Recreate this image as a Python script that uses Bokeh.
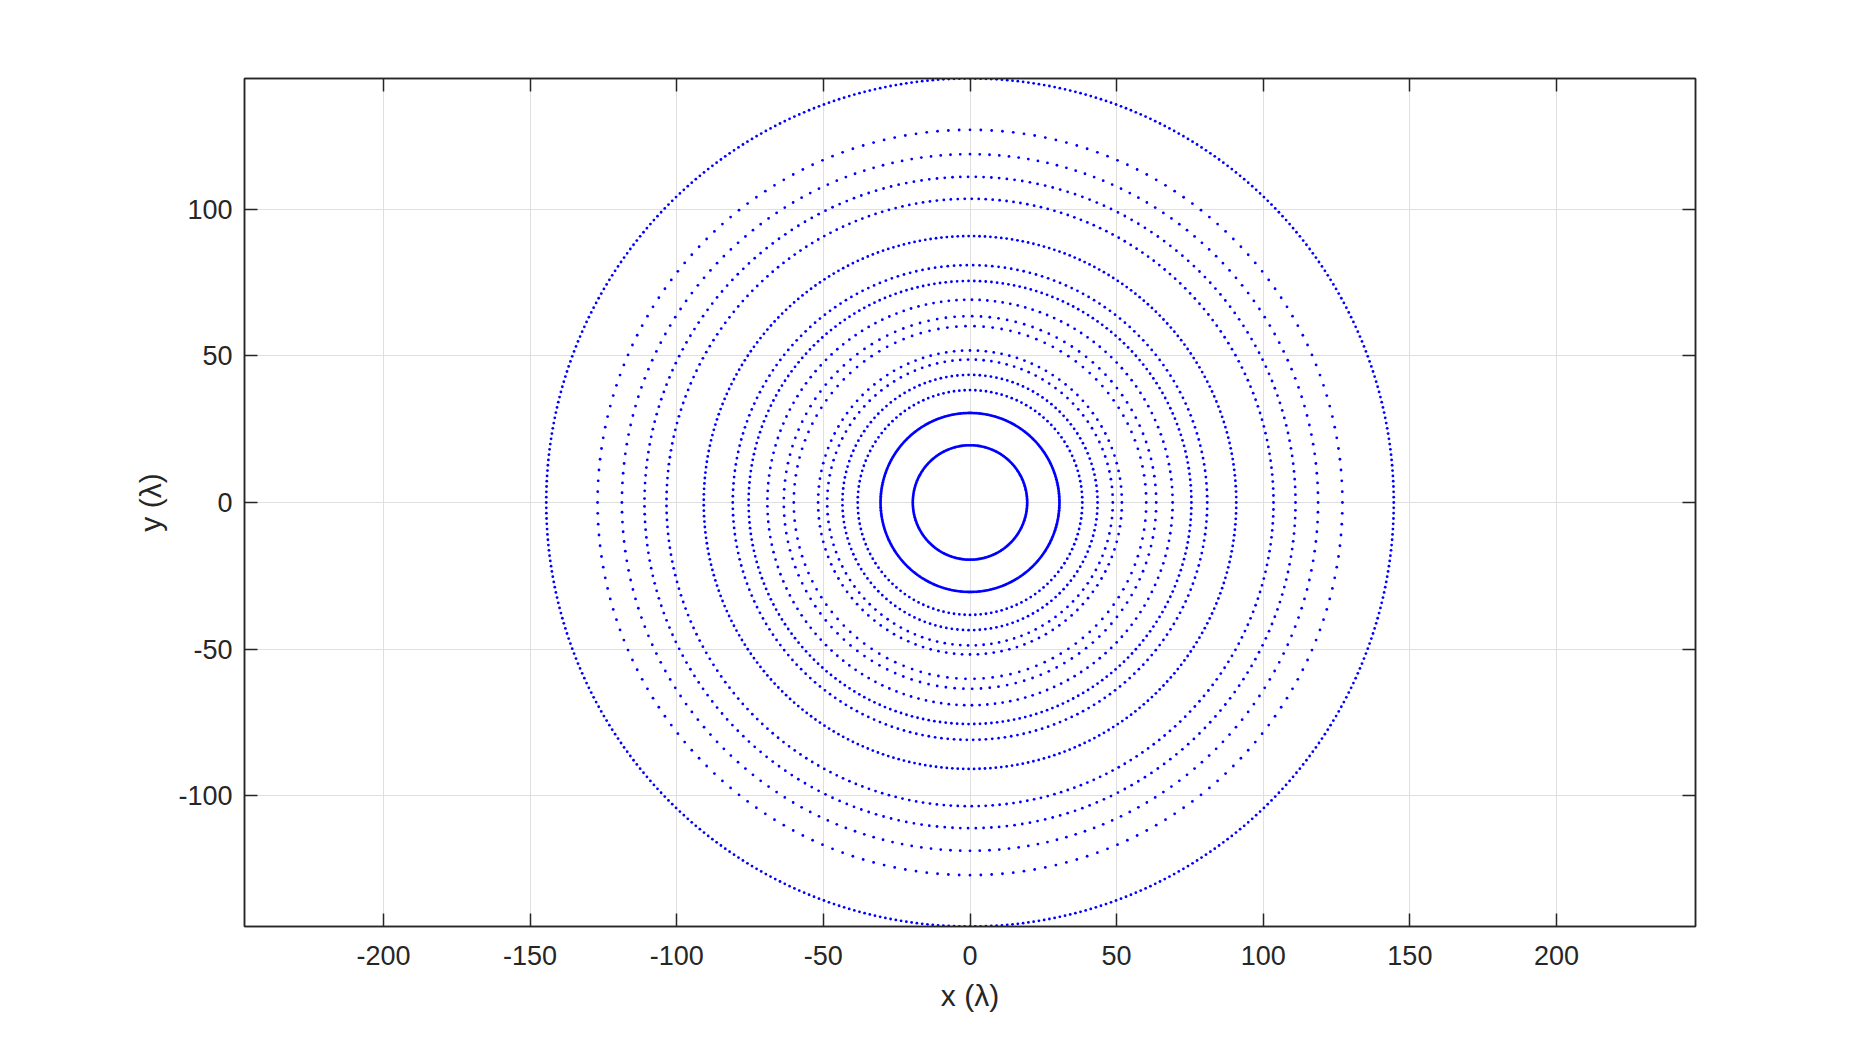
import numpy as np
from bokeh.plotting import figure
from bokeh.models import Range1d, LinearAxis, FixedTicker, ColumnDataSource
from bokeh.embed import file_html
from bokeh.resources import INLINE

# ring radii (in wavelengths) and number of elements per ring
ring_radius = [19.5, 30.5, 38.3, 43.5, 48.7, 51.8, 60.1, 63.5, 69.1, 75.5,
               80.9, 90.8, 103.5, 111.0, 118.7, 127.0, 144.5]
ring_count = [240, 360, 132, 143, 115, 120, 122, 133, 165, 243,
              234, 307, 273, 263, 224, 216, 500]

x_ticks = [-200, -150, -100, -50, 0, 50, 100, 150, 200]
y_ticks = [-100, -50, 0, 50, 100]

xs, ys = [], []
for r, n in zip(ring_radius, ring_count):
    a = np.arange(n) * 2 * np.pi / n
    xs.extend(r * np.cos(a))
    ys.extend(r * np.sin(a))
src = ColumnDataSource(dict(x=xs, y=ys))

AX = "#262626"
FONT = "Liberation Sans"

p = figure(frame_width=1451, frame_height=848,
           x_range=Range1d(-247.4, 247.4), y_range=Range1d(-144.5, 144.5),
           output_backend="svg", toolbar_location=None,
           min_border_left=244, min_border_top=78,
           min_border_right=164, min_border_bottom=100,
           background_fill_color="white", border_fill_color="white")

p.scatter("x", "y", source=src, marker="circle", size=2.8,
          fill_color="#0000ff", line_color="#0000ff", line_width=0)

p.xaxis.ticker = FixedTicker(ticks=x_ticks)
p.yaxis.ticker = FixedTicker(ticks=y_ticks)
p.xgrid.ticker = FixedTicker(ticks=x_ticks)
p.ygrid.ticker = FixedTicker(ticks=y_ticks)
p.grid.grid_line_color = "#dfdfdf"
p.grid.grid_line_width = 1

p.xaxis.axis_label = "x (λ)"
p.yaxis.axis_label = "y (λ)"
p.xaxis.major_label_overrides = {t: str(t) for t in x_ticks}
p.yaxis.major_label_overrides = {t: str(t) for t in y_ticks}

for ax in (p.xaxis[0], p.yaxis[0]):
    ax.axis_line_color = AX
    ax.axis_line_width = 1.5
    ax.major_tick_line_color = AX
    ax.major_tick_line_width = 1.5
    ax.major_tick_in = 13
    ax.major_tick_out = 0
    ax.minor_tick_line_color = None
    ax.major_label_text_font = FONT
    ax.major_label_text_font_size = "27px"
    ax.major_label_text_color = AX
    ax.axis_label_text_font = FONT
    ax.axis_label_text_font_size = "30px"
    ax.axis_label_text_color = AX
    ax.axis_label_text_font_style = "normal"

p.xaxis.major_label_standoff = 19
p.xaxis.axis_label_standoff = 11
p.yaxis.major_label_standoff = 12
p.yaxis.axis_label_standoff = 8

for loc, tk in (("above", x_ticks), ("right", y_ticks)):
    ax = LinearAxis(ticker=FixedTicker(ticks=tk))
    ax.axis_line_color = AX
    ax.axis_line_width = 1.5
    ax.major_tick_line_color = AX
    ax.major_tick_line_width = 1.5
    ax.major_tick_in = 13
    ax.major_tick_out = 0
    ax.minor_tick_line_color = None
    ax.major_label_text_color = None
    ax.major_label_text_font_size = "10px"
    ax.major_label_standoff = 0
    p.add_layout(ax, loc)

p.outline_line_color = AX
p.outline_line_width = 1.5

open("out.html", "w").write(file_html(p, INLINE))
